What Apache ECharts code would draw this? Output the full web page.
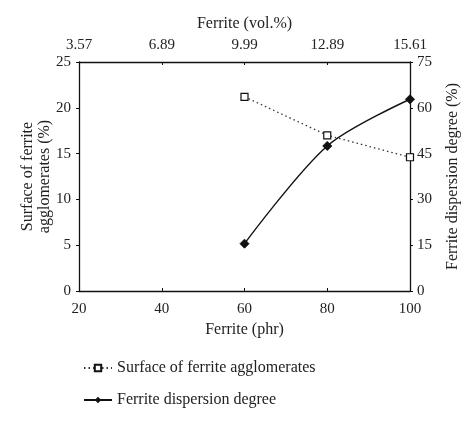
<!DOCTYPE html>
<html>
<head>
<meta charset="utf-8">
<script src="https://cdn.jsdelivr.net/npm/echarts@6/dist/echarts.min.js"></script>
<style>
  html, body { margin: 0; padding: 0; background: #fff; }
  #chart { width: 474px; height: 424px; }
</style>
</head>
<body>
<div id="chart"></div>
<script>
// data
var phr = [60, 80, 100];
var volLabels = ['3.57', '6.89', '9.99', '12.89', '15.61'];
var agglomerates = [21.2, 17.0, 14.6];   // left axis (%)
var dispersion = [15.5, 47.5, 62.8];     // right axis (%)

var font = 'Liberation Serif';

function pairs(xs, ys) {
  return xs.map(function(x, i) {
    return [x, ys[i]];
  });
}

var chart = echarts.init(document.getElementById('chart'));

chart.setOption({
  animation: false,
  textStyle: { fontFamily: font, color: '#222' },
  grid: { left: 79, right: 64, top: 62, bottom: 133, outerBoundsMode: 'none' },
  legend: {
    orient: 'vertical',
    left: 78,
    top: 355,
    itemGap: 16,
    itemWidth: 28,
    itemHeight: 8,
    textStyle: { fontFamily: font, fontSize: 16, color: '#222' },
    data: ['Surface of ferrite agglomerates', 'Ferrite dispersion degree']
  },
  xAxis: [{
    type: 'value',
    position: 'bottom',
    min: 20,
    max: 100,
    interval: 20,
    name: 'Ferrite (phr)',
    nameLocation: 'middle',
    nameGap: 31,
    nameTextStyle: { fontFamily: font, fontSize: 16, color: '#222' },
    axisLine: { onZero: false, lineStyle: { color: '#111', width: 1.3 } },
    axisTick: { inside: true, length: 3, lineStyle: { color: '#111' } },
    axisLabel: { fontFamily: font, fontSize: 15, color: '#222', margin: 11 },
    splitLine: { show: false }
  }, {
    type: 'value',
    position: 'top',
    min: 20,
    max: 100,
    interval: 20,
    name: 'Ferrite (vol.%)',
    nameLocation: 'middle',
    nameGap: 30,
    nameTextStyle: { fontFamily: font, fontSize: 16, color: '#222' },
    axisLine: { onZero: false, lineStyle: { color: '#111', width: 1.3 } },
    axisTick: { inside: true, length: 3, lineStyle: { color: '#111' } },
    axisLabel: {
      fontFamily: font, fontSize: 15, color: '#222', margin: 9,
      formatter: function(v) {
        return volLabels[(v - 20) / 20];
      }
    },
    splitLine: { show: false }
  }],
  yAxis: [{
    type: 'value',
    position: 'left',
    min: 0,
    max: 25,
    interval: 5,
    name: 'Surface of ferrite\nagglomerates (%)',
    nameLocation: 'middle',
    nameRotate: 90,
    nameGap: 26,
    nameMoveOverlap: false,
    nameTextStyle: { fontFamily: font, fontSize: 16, color: '#222', lineHeight: 17 },
    axisLine: { show: true, onZero: false, lineStyle: { color: '#111', width: 1.3 } },
    axisTick: { show: true, length: 3, lineStyle: { color: '#111' } },
    axisLabel: { fontFamily: font, fontSize: 15, color: '#222', margin: 8 },
    splitLine: { show: false }
  }, {
    type: 'value',
    position: 'right',
    min: 0,
    max: 75,
    interval: 15,
    name: 'Ferrite dispersion degree (%)',
    nameLocation: 'middle',
    nameRotate: 90,
    nameGap: 35,
    nameTextStyle: { fontFamily: font, fontSize: 16, color: '#222' },
    axisLine: { show: true, onZero: false, lineStyle: { color: '#111', width: 1.3 } },
    axisTick: { show: true, length: 3, lineStyle: { color: '#111' } },
    axisLabel: { fontFamily: font, fontSize: 15, color: '#222', margin: 7 },
    splitLine: { show: false }
  }],
  series: [{
    name: 'Surface of ferrite agglomerates',
    type: 'line',
    xAxisIndex: 0,
    yAxisIndex: 0,
    data: pairs(phr, agglomerates),
    symbol: 'rect',
    symbolSize: 7,
    itemStyle: { color: '#fff', borderColor: '#111', borderWidth: 1.2 },
    lineStyle: { color: '#333', width: 1.3, type: [1.5, 3] }
  }, {
    name: 'Ferrite dispersion degree',
    type: 'line',
    xAxisIndex: 0,
    yAxisIndex: 1,
    data: pairs(phr, dispersion),
    smooth: 0.3,
    symbol: 'diamond',
    symbolSize: 9,
    itemStyle: { color: '#111', borderColor: '#111' },
    lineStyle: { color: '#111', width: 1.4 }
  }]
});
</script>
</body>
</html>
